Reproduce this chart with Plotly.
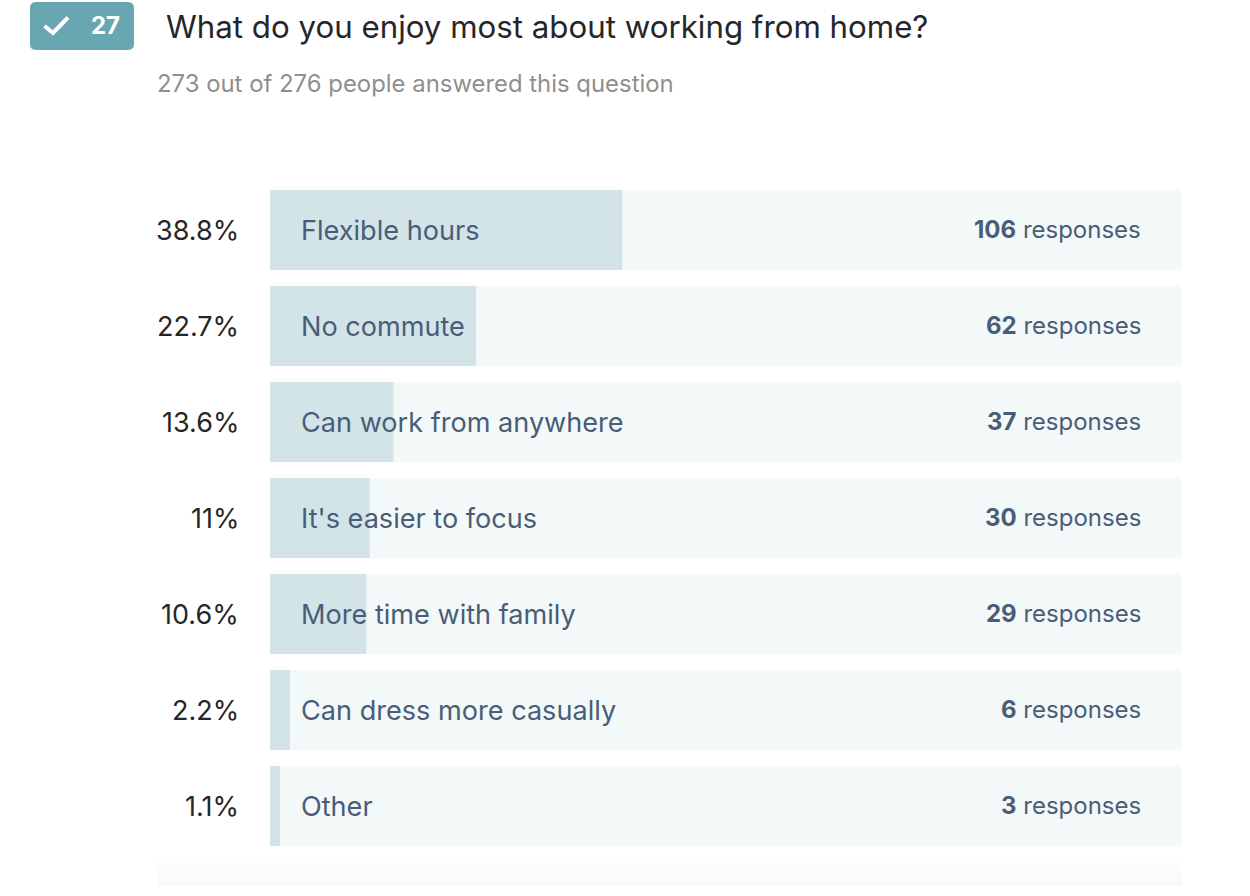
import plotly.graph_objects as go

categories = ["Flexible hours", "No commute", "Can work from anywhere", "It's easier to focus",
              "More time with family", "Can dress more casually", "Other"]
percent_labels = ["38.8%", "22.7%", "13.6%", "11%", "10.6%", "2.2%", "1.1%"]
percents = [38.8, 22.7, 13.6, 11.0, 10.6, 2.2, 1.1]
responses = [106, 62, 37, 30, 29, 6, 3]
full_scale = 100.5
track = [full_scale] * 7
title = "What do you enjoy most about working from home?"
subtitle = "273 out of 276 people answered this question"
badge_number = "27"

W, H = 1250, 896
FONT = "Inter"
rows = list(range(len(categories)))

def px(x): return x / W
def py(y): return 1 - y / H

fig = go.Figure()
fig.add_bar(y=rows, x=track, orientation="h", width=80/96, marker=dict(color="#f3f8f8", line_width=0), hoverinfo="skip")
fig.add_bar(y=rows, x=percents, orientation="h", width=80/96, marker=dict(color="#d2e4e8", line_width=0),
            customdata=categories, hovertemplate="%{customdata}: %{x}%<extra></extra>")

annotations = []
for r, cat, n, pct in zip(rows, categories, responses, percent_labels):
    annotations.append(dict(x=0, y=r, xref="x", yref="y", text=cat, showarrow=False, xanchor="left", xshift=29,
                            font=dict(family=FONT, size=27.1, color="#4a5d78")))
    annotations.append(dict(x=full_scale, y=r, xref="x", yref="y", text=f"<b>{n}</b> responses", showarrow=False,
                            xanchor="right", xshift=-39, yshift=1, font=dict(family=FONT, size=24, color="#4a5d78")))
    annotations.append(dict(x=0, y=r, xref="x", yref="y", text=pct, showarrow=False, xanchor="right", xshift=-29, yshift=0,
                            font=dict(family=FONT, size=27, color="#262627")))

annotations += [
    dict(x=px(164), y=py(27), xref="paper", yref="paper", text=title, showarrow=False, xanchor="left", yanchor="middle",
         font=dict(family=FONT, size=31.25, color="#262627")),
    dict(x=px(155), y=py(83.5), xref="paper", yref="paper", text=subtitle, showarrow=False, xanchor="left", yanchor="middle",
         font=dict(family=FONT, size=23.9, color="#8f8f8f")),
    dict(x=px(122), y=py(26), xref="paper", yref="paper", text=f"<b>{badge_number}</b>", showarrow=False, xanchor="right", yanchor="middle",
         font=dict(family=FONT, size=24, color="#ffffff")),
]

def to_path(points):
    return "M" + " L".join(f"{px(x):.5f},{py(y):.5f}" for x, y in points)

def rounded_rect(x0, y0, x1, y1, r):
    c = lambda x, y: f"{px(x):.5f},{py(y):.5f}"
    return (f"M{c(x0 + r, y0)} L{c(x1 - r, y0)} Q{c(x1, y0)} {c(x1, y0 + r)} L{c(x1, y1 - r)} Q{c(x1, y1)} {c(x1 - r, y1)} "
            f"L{c(x0 + r, y1)} Q{c(x0, y1)} {c(x0, y1 - r)} L{c(x0, y0 + r)} Q{c(x0, y0)} {c(x0 + r, y0)} Z")

shapes = [
    dict(type="path", xref="paper", yref="paper", path=rounded_rect(30, 2, 134, 50, 6),
         fillcolor="#68a7b1", line_width=0, layer="below"),
    dict(type="path", xref="paper", yref="paper", path=to_path([(44.5, 26), (53, 33), (68, 17.5)]),
         line=dict(color="#ffffff", width=4), fillcolor="rgba(0,0,0,0)"),
]
for i in range(34):
    g = 255 - round(6 * i / 33)
    shapes.append(dict(type="rect", xref="paper", yref="paper", x0=px(158), x1=px(1182), y0=py(852 + i), y1=py(853 + i),
                       fillcolor=f"rgb({g},{g},{g})", line_width=0, layer="below"))

fig.update_layout(
    width=W, height=H, margin=dict(l=0, r=0, t=0, b=0), paper_bgcolor="#ffffff", plot_bgcolor="rgba(0,0,0,0)",
    barmode="overlay", barcornerradius=5, showlegend=False, annotations=annotations, shapes=shapes,
    xaxis=dict(domain=[px(270), px(1182)], range=[0, full_scale], visible=False, fixedrange=True),
    yaxis=dict(domain=[0, 1], range=[(H - 230) / 96, -230 / 96], visible=False, fixedrange=True),
)
fig.write_html("out.html", config=dict(displayModeBar=False),
               post_script="document.body.style.margin='0';document.documentElement.style.overflow='hidden';")
